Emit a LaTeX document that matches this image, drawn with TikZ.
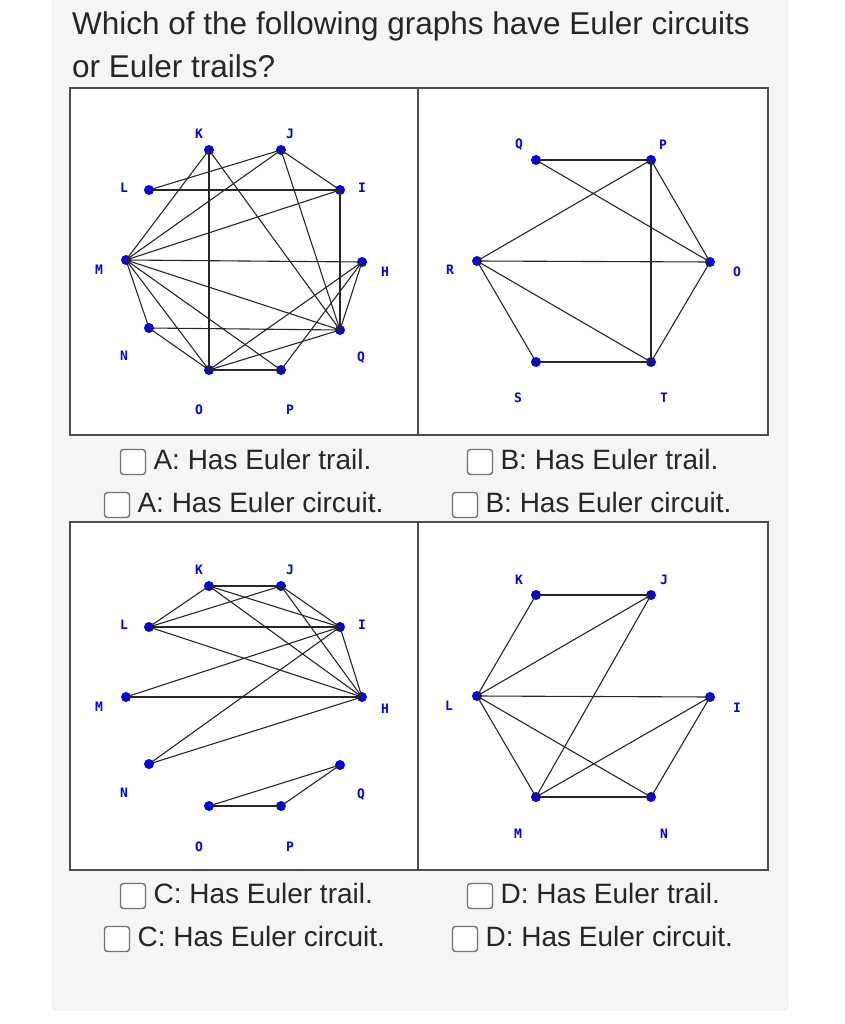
\documentclass[tikz,border=0pt]{standalone}
\usepackage{fontspec}
\setmainfont{Liberation Sans}
\newfontfamily\lblfont{DejaVu Sans Mono}
\begin{document}
\begin{tikzpicture}[x=1pt,y=-1pt,
  vtx/.style={circle,fill=blue,inner sep=0pt,minimum size=10pt},
  lbl/.style={text=blue,font=\lblfont\bfseries\fontsize{13}{13}\selectfont},
  edge/.style={draw=black!85,line width=1.1pt},
  frame/.style={draw=black!70,fill=white,line width=1.2pt},
  cbox/.style={draw=black!55,fill=white,rounded corners=3pt,line width=1.4pt,minimum size=25pt,inner sep=0pt},
  opt/.style={anchor=west,font=\fontsize{28}{28}\selectfont,text=black!85}]
\useasboundingbox (0,0) rectangle (844,1024);
\fill[white] (0,0) rectangle (844,1024);
\draw[draw=black!15,fill=black!4,rounded corners=4pt] (52,-10) rectangle (788,1010);
\node[anchor=base west,inner sep=0pt,font=\fontsize{31.5}{31.5}\selectfont,text=black!85] (t1) at (72,35) {Which of the following graphs have Euler circuits};
\node[anchor=base west,inner sep=0pt,font=\fontsize{31.5}{31.5}\selectfont,text=black!85] (t2) at (72,78) {or Euler trails?};
\draw[frame] (70,88) rectangle (418,435);
\draw[frame] (418,88) rectangle (768,435);
\draw[frame] (70,522) rectangle (418,870);
\draw[frame] (418,522) rectangle (768,870);
% Graph A
\node[vtx] (aK) at (209,150) {}; \node[vtx] (aJ) at (281,150) {};
\node[vtx] (aL) at (149,190) {}; \node[vtx] (aI) at (340,190) {};
\node[vtx] (aM) at (126,260) {}; \node[vtx] (aH) at (362,262) {};
\node[vtx] (aN) at (149,328) {}; \node[vtx] (aQ) at (340,330) {};
\node[vtx] (aO) at (209,370) {}; \node[vtx] (aP) at (281,370) {};
\foreach \a/\b in {K/O,K/M,K/Q,J/L,J/M,J/I,J/Q,L/I,I/M,I/Q,M/H,M/N,M/O,M/P,M/Q,N/Q,N/O,O/P,O/H,O/Q,P/H,H/Q}
  \draw[edge] (a\a.center) -- (a\b.center);
\foreach \n/\x/\y in {K/199/134,J/290/134,L/124/188,I/362/188,M/99/270,H/385/272,N/124/356,Q/361/358,O/199/410,P/290/410}
  \node[lbl] (aL\n) at (\x,\y) {\n};
% Graph B
\node[vtx] (bQ) at (536,160) {}; \node[vtx] (bP) at (651,160) {};
\node[vtx] (bR) at (477,261) {}; \node[vtx] (bO) at (710,262) {};
\node[vtx] (bS) at (536,362) {}; \node[vtx] (bT) at (651,362) {};
\foreach \a/\b in {Q/P,Q/O,P/R,P/T,P/O,R/O,R/T,R/S,S/T,T/O}
  \draw[edge] (b\a.center) -- (b\b.center);
\foreach \n/\x/\y in {Q/519/145,P/663/145,R/450/270,O/737/272,S/518/398,T/664/398}
  \node[lbl] (bL\n) at (\x,\y) {\n};
% Graph C
\node[vtx] (cK) at (209,586) {}; \node[vtx] (cJ) at (281,586) {};
\node[vtx] (cL) at (149,627) {}; \node[vtx] (cI) at (340,627) {};
\node[vtx] (cM) at (126,697) {}; \node[vtx] (cH) at (362,697) {};
\node[vtx] (cN) at (149,764) {}; \node[vtx] (cQ) at (340,765) {};
\node[vtx] (cO) at (209,806) {}; \node[vtx] (cP) at (281,806) {};
\foreach \a/\b in {K/J,K/L,K/I,K/H,J/L,J/I,J/H,L/I,L/H,I/M,I/N,I/H,M/H,N/H,O/P,O/Q,P/Q}
  \draw[edge] (c\a.center) -- (c\b.center);
\foreach \n/\x/\y in {K/199/570,J/290/570,L/124/625,I/362/625,M/99/707,H/385/709,N/124/793,Q/361/795,O/199/847,P/290/847}
  \node[lbl] (cL\n) at (\x,\y) {\n};
% Graph D
\node[vtx] (dK) at (536,595) {}; \node[vtx] (dJ) at (651,595) {};
\node[vtx] (dL) at (477,696) {}; \node[vtx] (dI) at (710,697) {};
\node[vtx] (dM) at (536,797) {}; \node[vtx] (dN) at (651,797) {};
\foreach \a/\b in {K/J,K/L,J/L,J/M,L/I,L/M,L/N,I/M,I/N,M/N}
  \draw[edge] (d\a.center) -- (d\b.center);
\foreach \n/\x/\y in {K/519/580,J/664/580,L/449/706,I/737/708,M/518/834,N/664/834}
  \node[lbl] (dL\n) at (\x,\y) {\n};
% options
\node[cbox] (cb1) at (133,462) {}; \node[opt] (o1) at (150,459) {A: Has Euler trail.};
\node[cbox] (cb2) at (117,505) {}; \node[opt] (o2) at (134,502) {A: Has Euler circuit.};
\node[cbox] (cb3) at (480,462) {}; \node[opt] (o3) at (497,459) {B: Has Euler trail.};
\node[cbox] (cb4) at (465,505) {}; \node[opt] (o4) at (482,502) {B: Has Euler circuit.};
\node[cbox] (cb5) at (133,896) {}; \node[opt] (o5) at (150,893) {C: Has Euler trail.};
\node[cbox] (cb6) at (117,939) {}; \node[opt] (o6) at (134,936) {C: Has Euler circuit.};
\node[cbox] (cb7) at (480,896) {}; \node[opt] (o7) at (497,893) {D: Has Euler trail.};
\node[cbox] (cb8) at (465,939) {}; \node[opt] (o8) at (482,936) {D: Has Euler circuit.};
\end{tikzpicture}
\end{document}
